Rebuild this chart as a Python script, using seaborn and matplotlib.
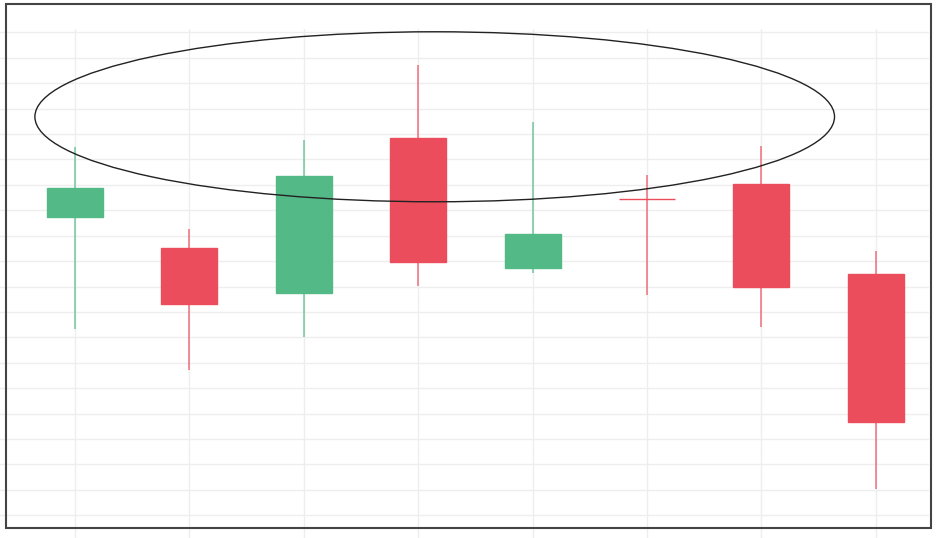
import matplotlib
matplotlib.use("Agg")
import matplotlib.pyplot as plt
from matplotlib.patches import Ellipse, Rectangle
import numpy as np
import seaborn as sns

# candle data (one grid step = 1 unit)
days = [0, 1, 2, 3, 4, 5, 6, 7]
opens = [11.72, 10.50, 8.73, 14.86, 9.73, 12.46, 13.02, 9.49]
closes = [12.87, 8.31, 13.36, 9.98, 11.08, 12.45, 8.98, 3.67]
highs = [14.48, 11.28, 14.77, 17.72, 15.46, 13.40, 14.53, 10.41]
lows = [7.32, 5.71, 7.02, 9.02, 9.52, 8.65, 7.42, 1.04]

# highlighted zone (ellipse)
zone_center = (3.144, 15.68)
zone_width = 6.99
zone_height = 6.69

sns.set_theme(style="white")

up_color = "#53b987"
down_color = "#eb4d5c"

fig = plt.figure(figsize=(9.38, 5.38), dpi=100)
ax = fig.add_axes([0, 0, 929 / 938, 509 / 538])

o = np.array(opens)
c = np.array(closes)
colors = [up_color if cc >= oo else down_color for oo, cc in zip(o, c)]

# wicks
ax.vlines(days, lows, highs, colors=colors, linewidth=1.1, alpha=0.8, zorder=2)

# bodies
bottoms = np.minimum(o, c)
heights = np.abs(c - o)
ax.bar(days, heights, bottom=bottoms, width=0.49, color=colors,
       edgecolor=colors, linewidth=1.0, zorder=3)

ax.add_patch(Ellipse(zone_center, zone_width, zone_height, fill=False,
                     edgecolor="#222222", linewidth=1.0, zorder=5))

ax.set_xlim(-0.656, 7.465)
ax.set_ylim(-0.897, 19.134)
ax.set_xticks(days)
ax.set_yticks(range(0, 20))
ax.set_xticklabels([])
ax.set_yticklabels([])
ax.tick_params(length=0)
ax.grid(True, color="#eeeeee", linewidth=1.0)
ax.set_axisbelow(True)
for s in ax.spines.values():
    s.set_visible(False)

# outer frame
fig.add_artist(Rectangle((6 / 938, 1 - 528 / 538), 925 / 938, 524 / 538,
                         transform=fig.transFigure, fill=False,
                         edgecolor="#444444", linewidth=1.5, zorder=10))

fig.savefig("out.png", dpi=100)
